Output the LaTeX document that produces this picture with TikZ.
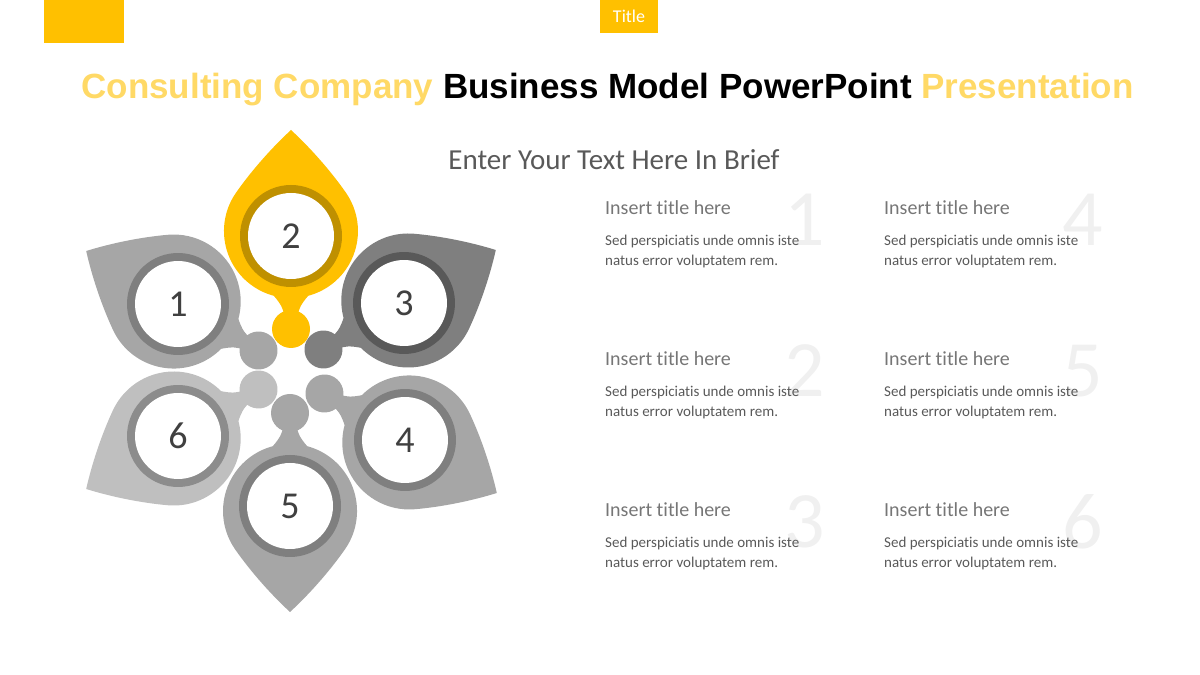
\documentclass[tikz,border=0pt]{standalone}
\usepackage{fontspec}
\setmainfont{Carlito}[Ligatures=NoCommon]
\newfontfamily\headfont{Liberation Sans}
\usetikzlibrary{positioning}

\definecolor{gold}{HTML}{FFC000}
\definecolor{golddark}{HTML}{BF9000}
\definecolor{paleyellow}{HTML}{FFD966}
\definecolor{midgray}{HTML}{A6A6A6}
\definecolor{ringgray}{HTML}{7F7F7F}
\definecolor{darkgray}{HTML}{7F7F7F}
\definecolor{darkring}{HTML}{595959}
\definecolor{lightgray}{HTML}{BFBFBF}
\definecolor{lightring}{HTML}{8C8C8C}
\definecolor{textgray}{HTML}{595959}
\definecolor{titlegray}{HTML}{767676}
\definecolor{numgray}{HTML}{404040}
\definecolor{ghost}{HTML}{F0F0F0}

\begin{document}
\begin{tikzpicture}[
      x=1pt, y=1pt,
      pics/petal/.style n args={2}{code={
        \fill[#1] (106,0) .. controls (88,19.5) and (65.5,39.4) .. (43.4,54.9)
          arc[start angle=55, end angle=305, radius=67]
          .. controls (65.5,-39.4) and (88,-19.5) .. cycle;
        \fill[#1] (-59.7,17.3) .. controls (-68,10) and (-74,7) .. (-80,7)
          -- (-80,-7) .. controls (-74,-7) and (-68,-10) .. (-59.7,-17.3) -- cycle;
        \fill[#1] (-93,0) circle[radius=19];
        \fill[#2] (0,0) circle[radius=51];
        \fill[white] (0,0) circle[radius=43];
      }},
      every node/.style={inner sep=0pt},
      num/.style={font=\fontsize{38}{38}\selectfont, text=numgray},
      ghostnum/.style={font=\fontsize{80}{80}\selectfont, text=ghost},
      ttl/.style={anchor=base west, font=\fontsize{20}{20}\selectfont, text=titlegray},
      txt/.style={anchor=north west, align=left, font=\fontsize{15}{20}\selectfont, text=textgray}
    ]
      \useasboundingbox (0,0) rectangle (1200,675);

      % header
      \fill[gold] (44,632) rectangle (124,675);
      \node[fill=gold, minimum width=58pt, minimum height=33pt, text=white,
        font=\fontsize{18}{18}\selectfont] (tag) at (629,658.5) {Title};
      \node[anchor=base, font=\headfont\bfseries\fontsize{35}{35}\selectfont] (heading) at (607.5,576)
        {\textcolor{paleyellow}{Consulting Company} Business Model PowerPoint \textcolor{paleyellow}{Presentation}};
      \node[anchor=base, font=\fontsize{29}{29}\selectfont, text=textgray] (brief) at (614,505)
        {Enter Your Text Here In Brief};

      % flower
      \pic at (178,371) [rotate=150] {petal={midgray}{ringgray}};
      \pic at (404,372) [rotate=30] {petal={darkgray}{darkring}};
      \pic at (405,235) [rotate=-30] {petal={midgray}{ringgray}};
      \pic at (290,169) [rotate=-90] {petal={midgray}{ringgray}};
      \pic at (178,239) [rotate=210] {petal={lightgray}{lightring}};
      \pic at (291,439) [rotate=90] {petal={gold}{golddark}};

      \node[num] (n1) at (178,371) {1};
      \node[num] (n2) at (291,439) {2};
      \node[num] (n3) at (404,372) {3};
      \node[num] (n4) at (405,235) {4};
      \node[num] (n5) at (290,169) {5};
      \node[num] (n6) at (178,239) {6};

      % big numbers behind the text
      \node[ghostnum] (g1) at (805,455) {1};
      \node[ghostnum] (g2) at (805,304) {2};
      \node[ghostnum] (g3) at (805,153) {3};
      \node[ghostnum] (g4) at (1083,455) {4};
      \node[ghostnum] (g5) at (1083,304) {5};
      \node[ghostnum] (g6) at (1083,153) {6};

      % text blocks
      \node[ttl] (t1) at (605,460) {Insert title here};
      \node[txt] (b1) at (605,440) {Sed perspiciatis unde omnis iste\\natus error voluptatem rem.};
      \node[ttl] (t2) at (605,309) {Insert title here};
      \node[txt] (b2) at (605,289) {Sed perspiciatis unde omnis iste\\natus error voluptatem rem.};
      \node[ttl] (t3) at (605,158) {Insert title here};
      \node[txt] (b3) at (605,138) {Sed perspiciatis unde omnis iste\\natus error voluptatem rem.};
      \node[ttl] (t4) at (884,460) {Insert title here};
      \node[txt] (b4) at (884,440) {Sed perspiciatis unde omnis iste\\natus error voluptatem rem.};
      \node[ttl] (t5) at (884,309) {Insert title here};
      \node[txt] (b5) at (884,289) {Sed perspiciatis unde omnis iste\\natus error voluptatem rem.};
      \node[ttl] (t6) at (884,158) {Insert title here};
      \node[txt] (b6) at (884,138) {Sed perspiciatis unde omnis iste\\natus error voluptatem rem.};
    \end{tikzpicture}
\end{document}
